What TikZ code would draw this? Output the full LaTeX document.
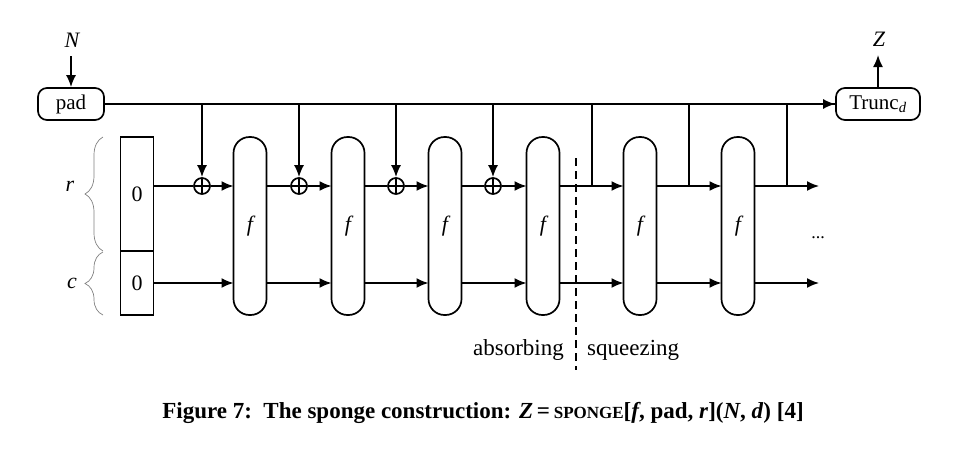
\documentclass[tikz,border=0pt]{standalone}
\usepackage{fontspec}
\setmainfont{Liberation Serif}
\usetikzlibrary{arrows.meta,decorations.pathreplacing}
\begin{document}
\begin{tikzpicture}[x=1pt,y=-1pt,line width=1.7pt,
  arr/.style={-{Latex[length=12pt,width=10pt]}},
  rbox/.style={draw,rounded corners=9pt,minimum height=32pt,inner xsep=4pt,font=\fontsize{21}{22}\selectfont},
  fbox/.style={draw,rounded corners=16pt,minimum width=33pt,minimum height=178pt,inner sep=0pt,font=\fontsize{22}{22}\selectfont\itshape},
  xo/.style={draw,circle,minimum size=16pt,inner sep=0pt,path picture={\draw[line width=1.4pt] (path picture bounding box.north)--(path picture bounding box.south) (path picture bounding box.west)--(path picture bounding box.east);}},
  lbl/.style={font=\fontsize{23}{23}\selectfont},
  il/.style={font=\fontsize{22}{22}\selectfont\itshape},
  br/.style={decorate,decoration={brace,amplitude=18pt},line width=0.7pt,draw=gray}]
\useasboundingbox (0,0) rectangle (973,450);
\node[il] (N) at (72,40) {N};
\node[rbox,minimum width=66pt] (pad) at (71,104) {pad};
\node[rbox,minimum width=84pt] (tr) at (878,104) {Trunc$_{\mathit{d}}$};
\node[il] (Z) at (879,39) {Z};
\coordinate (nA) at (71,56);
\coordinate (zA) at (878,55);
\draw[arr] (nA) -- (pad.north);
\draw[arr] (tr.north) -- (zA);
\node[draw,minimum width=33pt,minimum height=114pt,inner sep=0pt,font=\fontsize{22}{22}\selectfont] (s1) at (137,194) {0};
\node[draw,minimum width=33pt,minimum height=64pt,inner sep=0pt,font=\fontsize{22}{22}\selectfont] (s2) at (137,283) {0};
\draw[br] (103,251) -- (103,137);
\draw[br] (103,315) -- (103,252);
\node[il] (r) at (70,186) {r};
\node[il] (c) at (72,283) {c};
\foreach \i/\x in {1/250,2/348,3/445,4/543,5/640,6/738}{
  \node[fbox] (f\i) at (\x,226) {f};
  \coordinate (fi\i) at (\x-16.5,186);
  \coordinate (fo\i) at (\x+16.5,186);
  \coordinate (ci\i) at (\x-16.5,283);
  \coordinate (co\i) at (\x+16.5,283);
}
\foreach \i/\x in {1/202,2/299,3/396,4/493}{
  \node[xo] (x\i) at (\x,186) {};
  \coordinate (t\i) at (\x,104);
  \draw[arr] (t\i) -- (x\i.north);
  \draw[arr] (x\i) -- (fi\i);
}
\coordinate (so) at (153,186);
\coordinate (sc) at (153,283);
\draw (so) -- (x1);
\draw (fo1) -- (x2); \draw (fo2) -- (x3); \draw (fo3) -- (x4);
\draw[arr] (sc) -- (ci1);
\draw[arr] (co1) -- (ci2); \draw[arr] (co2) -- (ci3); \draw[arr] (co3) -- (ci4);
\draw[arr] (co4) -- (ci5); \draw[arr] (co5) -- (ci6);
\draw[arr] (fo4) -- (fi5); \draw[arr] (fo5) -- (fi6);
\coordinate (e1) at (819,186); \coordinate (e2) at (819,283);
\draw[arr] (fo6) -- (e1); \draw[arr] (co6) -- (e2);
\draw[arr] (pad.east) -- (tr.west);
\coordinate (q1) at (592,186); \coordinate (q2) at (689,186); \coordinate (q3) at (787,186);
\draw (q1) |- (tr.west); \draw (q2) -- (689,104); \draw (q3) -- (787,104);
\node[font=\fontsize{18}{18}\selectfont] (dots) at (818,238) {...};
\coordinate (d1) at (576,158); \coordinate (d2) at (576,370);
\draw[line width=1.2pt,dash pattern=on 8pt off 5pt] (d1) -- (d2);
\node[lbl,anchor=east] (ab) at (568,350) {absorbing};
\node[lbl,anchor=west] (sq) at (583,350) {squeezing};
\node[font=\fontsize{23}{26}\selectfont\bfseries] (cap) at (483,413) {Figure 7:\ \ The sponge construction: \textit{Z}\,=\,{\fontsize{17}{20}\selectfont SPONGE}[\textit{f}, pad, \textit{r}](\textit{N}, \textit{d}) [4]};
\end{tikzpicture}
\end{document}
